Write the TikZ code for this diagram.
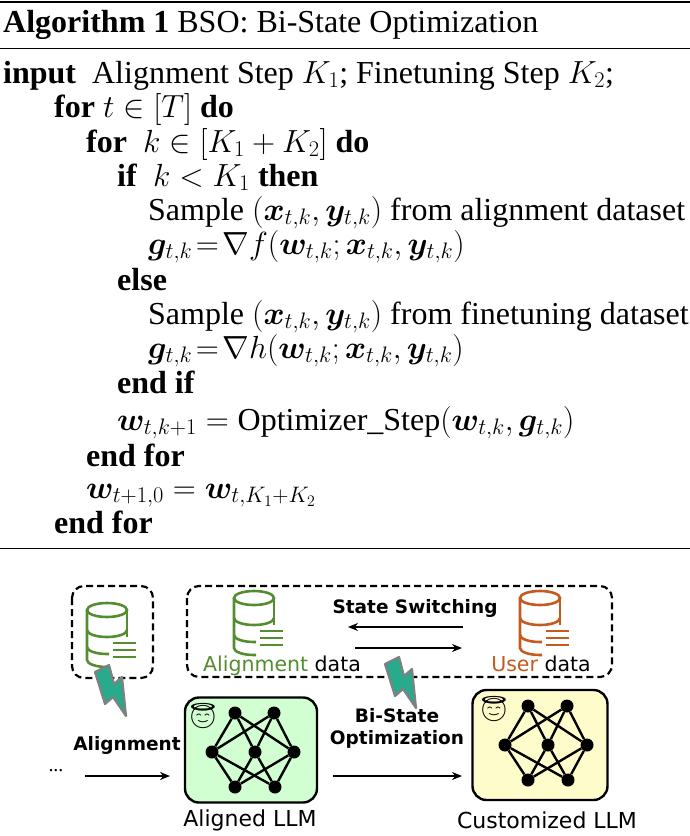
\documentclass[tikz,border=0pt]{standalone}
\usepackage{fix-cm}
\usepackage{amsmath,bm}
\usepackage{fontspec}
\setmainfont{Liberation Serif}
\newfontfamily\dv{DejaVu Sans}
\newfontfamily\emo{Noto Emoji}
\usetikzlibrary{arrows.meta}
\definecolor{gr}{RGB}{84,140,48}
\definecolor{og}{RGB}{196,90,30}
\definecolor{teal1}{RGB}{40,170,140}
\tikzset{
 alg/.style={anchor=base west,inner sep=0pt,font=\fontsize{32}{36}\selectfont},
 dbox/.style={draw,line width=2.2pt,rounded corners=12pt,dash pattern=on 7pt off 4pt},
 llm/.style={draw,line width=2.4pt,rounded corners=14pt},
 arr/.style={-{Stealth[length=10pt,width=8pt]},line width=2.2pt},
 lab/.style={font=\dv\bfseries\fontsize{18.5}{22}\selectfont,align=center},
 nn/.style={circle,fill=black,inner sep=0pt,minimum size=13pt},
 pics/db/.style={code={
   \begin{scope}[draw=#1,line width=2.6pt]
   \draw (0,0) ellipse[x radius=20,y radius=7];
   \draw (-20,0) -- (-20,50) arc[start angle=180,end angle=90,x radius=20,y radius=7] -- (2,57);
   \draw (20,0) -- (20,27);
   \draw (-20,20) arc[start angle=180,end angle=0,x radius=20,y radius=7];
   \draw (-20,37) arc[start angle=180,end angle=90,x radius=20,y radius=7] -- (2,44);
   \draw (6,33)--(29,33) (6,40)--(29,40) (6,47)--(29,47);
   \end{scope}}},
 pics/bolt/.style={code={
   \draw[fill=teal1,draw=gray,line width=2.2pt,line join=round] (-16,-18)--(-2,-25)--(3,-6)--(11,-13)--(15,26)--(2,7)--(-6,14)--cycle;}},
 pics/net/.style={code={
   \node[nn] (a1) at (-18,-37) {}; \node[nn] (a2) at (21,-37) {};
   \node[nn] (b1) at (-41,2) {}; \node[nn] (b2) at (2,2) {}; \node[nn] (b3) at (41,2) {};
   \node[nn] (c1) at (-18,37) {}; \node[nn] (c2) at (22,37) {};
   \foreach \u in {a1,a2} \foreach \v in {b1,b2,b3} \draw[line width=2.4pt] (\u)--(\v);
   \foreach \u in {c1,c2} \foreach \v in {b1,b2,b3} \draw[line width=2.4pt] (\u)--(\v);}}
}
\begin{document}
\begin{tikzpicture}[x=1pt,y=-1pt]
\useasboundingbox (0,0) rectangle (690,836);
\draw[line width=1.6pt] (0,2)--(690,2);
\node[alg] (title) at (3,32) {\textbf{Algorithm 1} BSO: Bi-State Optimization};
\draw[line width=1pt] (0,48)--(690,48);
\node[alg] (l1) at (3,83) {\textbf{input}\ \ Alignment Step $K_1$; Finetuning Step $K_2$;};
\node[alg] (l2) at (54,117) {\textbf{for} $t\in[T]$ \textbf{do}};
\node[alg] (l3) at (86,152) {\textbf{for}\ \ $k\in[K_1+K_2]$ \textbf{do}};
\node[alg] (l4) at (117,186) {\textbf{if}\ \ $k<K_1$ \textbf{then}};
\node[alg] (l5) at (148,220) {Sample $(\bm{x}_{t,k},\bm{y}_{t,k})$ from alignment dataset};
\node[alg] (l6) at (148,254) {$\bm{g}_{t,k}\!=\!\nabla f(\bm{w}_{t,k};\bm{x}_{t,k},\bm{y}_{t,k})$};
\node[alg] (l7) at (117,290) {\textbf{else}};
\node[alg] (l8) at (148,324) {Sample $(\bm{x}_{t,k},\bm{y}_{t,k})$ from finetuning dataset};
\node[alg] (l9) at (148,358) {$\bm{g}_{t,k}\!=\!\nabla h(\bm{w}_{t,k};\bm{x}_{t,k},\bm{y}_{t,k})$};
\node[alg] (l10) at (117,393) {\textbf{end if}};
\node[alg] (l11) at (117,430) {$\bm{w}_{t,k+1}=\text{Optimizer\_Step}(\bm{w}_{t,k},\bm{g}_{t,k})$};
\node[alg] (l12) at (86,466) {\textbf{end for}};
\node[alg] (l13) at (86,498) {$\bm{w}_{t+1,0}=\bm{w}_{t,K_1+K_2}$};
\node[alg] (l14) at (54,533) {\textbf{end for}};
\draw[line width=1pt] (0,548)--(690,548);
% diagram
\draw[dbox] (72,586) rectangle (153,678);
\draw[dbox] (187,586) rectangle (612,677);
\pic at (107,610) {db=gr};
\pic at (254,598) {db=gr};
\pic at (540,598) {db=og};
\node[font=\dv\fontsize{20.5}{24}\selectfont,anchor=base] (ad) at (282,671) {\textcolor{gr}{Alignment} data};
\node[font=\dv\fontsize{20.5}{24}\selectfont,anchor=base] (ud) at (541,671) {\textcolor{og}{User} data};
\node[lab] (ss) at (415,608) {State Switching};
\coordinate (sl1) at (463,627); \coordinate (sl2) at (348,627);
\coordinate (sr1) at (355,648); \coordinate (sr2) at (462,648);
\draw[arr] (sl1)--(sl2);
\draw[arr] (sr1)--(sr2);
\node[llm,fill=green!18,minimum width=132pt,minimum height=105pt] (al) at (251,750) {};
\node[llm,fill=yellow!20,minimum width=135pt,minimum height=110pt] (cu) at (540,745) {};
\pic at (253,750) {net};
\pic at (546,743) {net};
\node[font=\emo\fontsize{25}{25}\selectfont] (e1) at (203,716) {😇};
\node[font=\emo\fontsize{25}{25}\selectfont] (e2) at (494,709) {😇};
\pic at (111,690) {bolt};
\pic at (401,682) {bolt};
\node[font=\fontsize{20}{20}\selectfont] (dots) at (56,771) {...};
\coordinate (d0) at (85,776); \coordinate (d1) at (170,776);
\draw[arr] (d0) -- (d1);
\node[lab] (alg) at (127,745) {Alignment};
\coordinate (b0) at (333,776); \coordinate (b1) at (462,776);
\draw[arr] (b0)--(b1);
\node[lab] (bso) at (397,728) {Bi-State\\Optimization};
\node[font=\dv\fontsize{22}{24}\selectfont] (an) at (250,820) {Aligned LLM};
\node[font=\dv\fontsize{22}{24}\selectfont] (cn) at (547,820) {Customized LLM};
\end{tikzpicture}
\end{document}
